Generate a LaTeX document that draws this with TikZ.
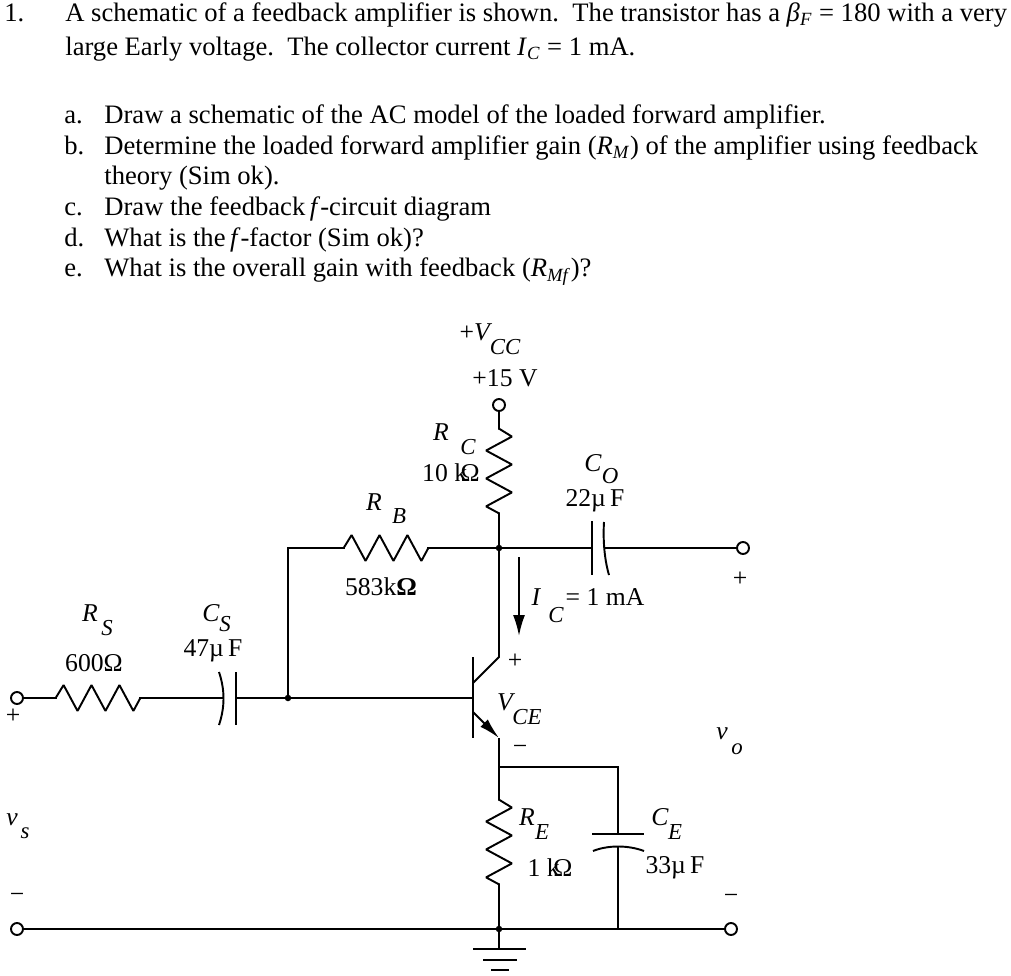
\documentclass[tikz,border=0pt]{standalone}
\usepackage{fontspec}
\setmainfont{Liberation Serif}
\usepackage{circuitikz}
\usetikzlibrary{arrows.meta}
\newcommand{\subi}[1]{\textsubscript{\textit{#1}}}
\ctikzset{bipoles/length=2.07cm, bipoles/thickness=1, bipoles/resistor/height=.25}
\tikzset{
  wire/.style={line width=1.1pt},
  term/.style={circle, draw, line width=1.1pt, fill=white, inner sep=0pt, minimum size=0.24cm},
  dot/.style={circle, fill=black, inner sep=0pt, minimum size=0.13cm},
  txt/.style={anchor=base west, inner sep=0pt, font=\fontsize{15.15}{18}\selectfont},
  lab/.style={inner sep=0pt, font=\fontsize{14.6}{17}\selectfont},
  sym/.style={lab, font=\fontsize{14.6}{17}\selectfont\itshape},
  low/.style={lab, font=\fontsize{13}{15}\selectfont\itshape},
}
\begin{document}
\begin{tikzpicture}[x=0.02cm, y=-0.02cm]
      \useasboundingbox (0, 0) rectangle (1011, 976);
      % Problem text:
      \node[txt] (T1) at (4, 22){1.};
      \node[txt] (T2) at (65, 22){A schematic of a feedback amplifier is shown.\ \ The transistor has a \textit{β}\subi{F} = 180 with a very};
      \node[txt] (T3) at (65, 56){large Early voltage.\ \ The collector current \textit{I}\subi{C} = 1 mA.};
      \node[txt] (Ta) at (64, 124){a.};
      \node[txt] (Tb) at (64, 155){b.};
      \node[txt] (Tc) at (64, 216){c.};
      \node[txt] (Td) at (64, 247){d.};
      \node[txt] (Te) at (64, 277){e.};
      \node[txt] (Ta1) at (104, 124){Draw a schematic of the AC model of the loaded forward amplifier.};
      \node[txt] (Tb1) at (104, 155){Determine the loaded forward amplifier gain (\textit{R}\subi{M}) of the amplifier using feedback};
      \node[txt] (Tb2) at (104, 185){theory (Sim ok).};
      \node[txt] (Tc1) at (104, 216){Draw the feedback\kern.17em\textit{f}-circuit diagram};
      \node[txt] (Td1) at (104, 247){What is the\kern.17em\textit{f}-factor (Sim ok)?};
      \node[txt] (Te1) at (104, 277){What is the overall gain with feedback (\textit{R}\subi{Mf})?};
      % Terminals and junctions:
      \coordinate (VSP) at (17, 698);
      \coordinate (VSN) at (17, 929);
      \coordinate (VOP) at (743, 548);
      \coordinate (VON) at (731, 929);
      \coordinate (VC) at (499, 405);
      \coordinate (JB) at (288, 698);
      \coordinate (JC) at (499, 548);
      \coordinate (JG) at (499, 929);
      \coordinate (JR) at (288, 548);
      \coordinate (JE) at (499, 767);
      \coordinate (JF) at (618, 767);
      \coordinate (JH) at (618, 929);
      % Resistor ends:
      \coordinate (RS1) at (46, 698);
      \coordinate (RS2) at (150, 698);
      \coordinate (RB1) at (334, 548);
      \coordinate (RB2) at (438, 548);
      \coordinate (RC1) at (499, 419);
      \coordinate (RC2) at (499, 523);
      \coordinate (RE1) at (499, 790);
      \coordinate (RE2) at (499, 894);
      % Transistor:
      \coordinate (QB) at (473, 698);
      \coordinate (QT) at (473, 657);
      \coordinate (QL) at (473, 738);
      \coordinate (QC1) at (473, 683);
      \coordinate (QC2) at (499, 657);
      \coordinate (QE1) at (473, 712);
      \coordinate (QE2) at (499, 738);
      % Capacitor plates:
      \coordinate (CS1) at (223, 698);
      \coordinate (CS2) at (236, 698);
      \coordinate (CO1) at (592, 548);
      \coordinate (CO2) at (605, 548);
      \coordinate (CE1) at (618, 834);
      \coordinate (CE2) at (618, 847);
      % Components:
      \draw[wire] (VSP) -- (RS1) to[american resistor] (RS2) -- (CS1);
      \draw[wire] (219, 672) .. controls (225, 690) and (225, 707) .. (219, 725);
      \draw[wire] (236, 672) -- (236, 725);
      \draw[wire] (CS2) -- (JB) -- (QB);
      \draw[wire] (JB) -- (JR) -- (RB1) to[american resistor] (RB2) -- (JC);
      \draw[wire] (VC) -- (RC1) to[american resistor] (RC2) -- (JC);
      \draw[wire] (JC) -- (CO1);
      \draw[wire] (592, 521) -- (592, 575);
      \draw[wire] (604, 522) .. controls (603, 538) and (604, 558) .. (609, 575);
      \draw[wire] (CO2) -- (VOP);
      \draw[wire] (JC) -- (QC2) -- (QC1);
      \draw[wire] (QT) -- (QL);
      \draw[wire, -{Latex[length=0.42cm, width=0.21cm]}] (QE1) -- (QE2);
      \draw[wire] (QE2) -- (JE) -- (RE1) to[american resistor] (RE2) -- (JG);
      \draw[wire] (JE) -- (JF) -- (CE1);
      \draw[wire] (592, 834) -- (644, 834);
      \draw[wire] (593, 851) .. controls (608, 845) and (628, 845) .. (644, 851);
      \draw[wire] (CE2) -- (JH);
      \draw[wire] (VSN) -- (VON);
      \coordinate (G0) at (499, 949);
      \draw[wire] (JG) -- (G0);
      \draw[wire] (473, 949) -- (526, 949);
      \draw[wire] (483, 960) -- (517, 960);
      \draw[wire] (491, 970) -- (509, 970);
      \coordinate (IA) at (519, 557);
      \coordinate (IB) at (519, 636);
      \draw[wire, -{Latex[length=0.42cm, width=0.24cm]}] (IA) -- (IB);
      \node[term] (NSP) at (VSP){};
      \node[term] (NSN) at (VSN){};
      \node[term] (NOP) at (VOP){};
      \node[term] (NON) at (VON){};
      \node[term] (NVC) at (VC){};
      \node[dot] (DB) at (JB){};
      \node[dot] (DC) at (JC){};
      \node[dot] (DG) at (JG){};
      % Labels:
      \node[lab] (L1) at (476, 332){+\textit{V}};
      \node[low] (L2) at (505, 347){CC};
      \node[lab] (L3) at (505, 378){+15 V};
      \node[sym] (L4) at (441, 432){R};
      \node[low] (L5) at (468, 447){C};
      \node[lab] (L6) at (451, 473){10 k\kern-.25emΩ};
      \node[sym] (L7) at (593, 463){C};
      \node[low] (L8) at (610, 476){O};
      \node[lab] (L9) at (595, 501){22µ\,F};
      \node[sym] (L10) at (374, 502){R};
      \node[low] (L11) at (399, 516){B};
      \node[lab] (L12) at (381, 587){583k\textbf{Ω}};
      \node[lab] (L13) at (740, 579){+};
      \node[sym] (L14) at (536, 597){I};
      \node[low] (L15) at (556, 615){C};
      \node[lab] (L16) at (605, 597){= 1 mA};
      \node[sym] (L17) at (90, 613){R};
      \node[low] (L18) at (107, 628){S};
      \node[lab] (L19) at (94, 663){600Ω};
      \node[sym] (L20) at (211, 613){C};
      \node[low] (L21) at (225, 624){S};
      \node[lab] (L22) at (213, 651){47µ\,F};
      \node[lab] (L23) at (13, 716){+};
      \node[lab] (L24) at (515, 661){+};
      \node[sym] (L25) at (505, 702){V};
      \node[low] (L26) at (527, 717){CE};
      \node[lab] (L27) at (520, 750){−};
      \node[sym] (L28) at (12, 820){v};
      \node[low] (L29) at (25, 833){s};
      \node[lab] (L30) at (17, 898){−};
      \node[sym] (L31) at (722, 734){v};
      \node[low] (L32) at (737, 749){o};
      \node[lab] (L33) at (731, 899){−};
      \node[sym] (L34) at (527, 817){R};
      \node[low] (L35) at (542, 832){E};
      \node[lab] (L36) at (550, 868){1 k\kern-.25emΩ};
      \node[sym] (L37) at (660, 817){C};
      \node[low] (L38) at (675, 832){E};
      \node[lab] (L39) at (675, 868){33µ\,F};
    \end{tikzpicture}
\end{document}
